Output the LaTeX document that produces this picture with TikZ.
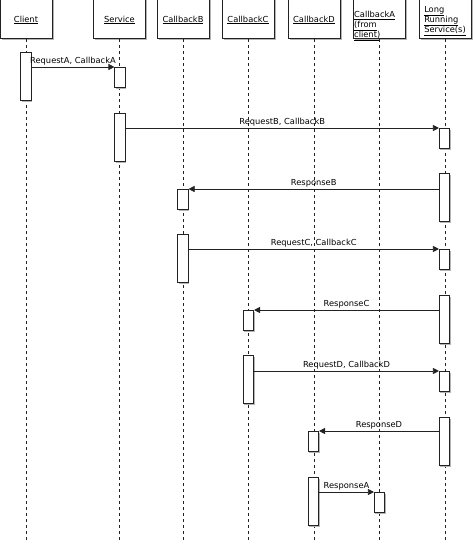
\documentclass[tikz,border=0pt]{standalone}
\usepackage{fontspec}
\setmainfont{DejaVu Sans}
\usepackage{tikz}
\usetikzlibrary{arrows.meta,positioning,calc,shadows}
\definecolor{Ink}{HTML}{222222}
\definecolor{Shade}{HTML}{B4B4B4}
\tikzset{
  >={Triangle[length=6pt,width=6pt]},
  head/.style={draw=Ink,fill=white,line width=.6pt,minimum width=52,minimum height=46,anchor=south,inner sep=0pt,
    drop shadow={shadow xshift=1.5pt,shadow yshift=-1.5pt,fill=Shade,opacity=1}},
  headtxt/.style={font=\fontsize{8.3}{10.2}\selectfont,align=left,inner sep=0pt},
  life/.style={draw=Ink,line width=.6pt,dash pattern=on 3pt off 3pt},
  act/.style={draw=Ink,fill=white,line width=.6pt,minimum width=10.5,minimum height=20,anchor=north,inner sep=0pt,
    drop shadow={shadow xshift=1.2pt,shadow yshift=-1.2pt,fill=Shade,opacity=1}},
  longact/.style={act,minimum height=48},
  msg/.style={->,draw=Ink,line width=.6pt},
  msgtxt/.style={font=\fontsize{8.3}{10}\selectfont,above,inner sep=1.8pt}
}

\begin{document}
\begin{tikzpicture}[x=1pt,y=-1pt]
  \clip (0,0) rectangle (474,541);
  \coordinate (bot) at (0,541);
  % lifeline heads
  \node[head] (hcl) at (26,39) {};
  \node[head] (hsv) at (119.5,39) {};
  \node[head] (hcb) at (183,39) {};
  \node[head] (hcc) at (248,39) {};
  \node[head] (hcd) at (314,39) {};
  \node[head] (hca) at (379,39) {};
  \node[head] (hlr) at (445,39) {};
  \node[headtxt] (tcl) at (26,20) {\underline{Client}};
  \node[headtxt] (tsv) at (119.5,20) {\underline{Service}};
  \node[headtxt] (tcb) at (183,20) {\underline{CallbackB}};
  \node[headtxt] (tcc) at (248,20) {\underline{CallbackC}};
  \node[headtxt] (tcd) at (314,20) {\underline{CallbackD}};
  \node[headtxt,anchor=north west] (tca) at (354,11) {\underline{CallbackA}\\\underline{(from}\\\underline{client)}};
  \node[headtxt] (tlr) at (445,21) {\underline{Long}\\\underline{Running}\\\underline{Service(s)}};
  % lifelines
  \foreach \h in {hcl,hsv,hcb,hcc,hcd,hca,hlr}
    \draw[life] (\h.south) -- (\h.south |- bot);
  % activations
  \node[longact] (cl1) at (26,52) {};
  \node[act] (sv1) at (120,67) {};
  \node[longact] (sv2) at (120,113) {};
  \node[act] (lr1) at (444.5,128) {};
  \node[longact] (lr2) at (444.5,173) {};
  \node[act] (cb1) at (183,189) {};
  \node[longact] (cb2) at (183,234) {};
  \node[act] (lr3) at (444.5,249) {};
  \node[longact] (lr4) at (444.5,295) {};
  \node[act] (cc1) at (248.5,310) {};
  \node[longact] (cc2) at (248.5,355) {};
  \node[act] (lr5) at (444.5,371) {};
  \node[longact] (lr6) at (444.5,417) {};
  \node[act] (cd1) at (313.5,431) {};
  \node[longact] (cd2) at (313.5,477) {};
  \node[act] (ca1) at (379.5,492) {};
  % messages
  \draw[msg] (cl1.east |- sv1.north) -- node[msgtxt] {RequestA, CallbackA} (sv1.north west);
  \draw[msg] (sv2.east |- lr1.north) -- node[msgtxt] {RequestB, CallbackB} (lr1.north west);
  \draw[msg] (lr2.west |- cb1.north) -- node[msgtxt] {ResponseB} (cb1.north east);
  \draw[msg] (cb2.east |- lr3.north) -- node[msgtxt] {RequestC, CallbackC} (lr3.north west);
  \draw[msg] (lr4.west |- cc1.north) -- node[msgtxt] {ResponseC} (cc1.north east);
  \draw[msg] (cc2.east |- lr5.north) -- node[msgtxt] {RequestD, CallbackD} (lr5.north west);
  \draw[msg] (lr6.west |- cd1.north) -- node[msgtxt] {ResponseD} (cd1.north east);
  \draw[msg] (cd2.east |- ca1.north) -- node[msgtxt] {ResponseA} (ca1.north west);
\end{tikzpicture}
\end{document}
